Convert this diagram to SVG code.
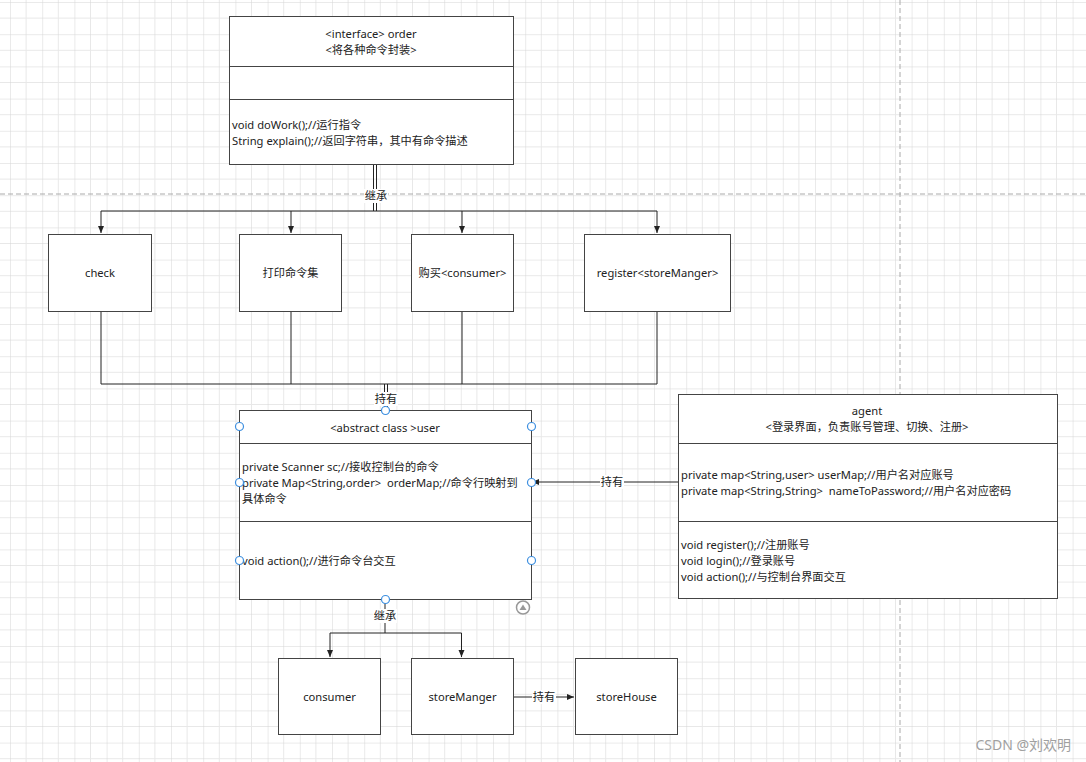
<svg xmlns="http://www.w3.org/2000/svg" width="1086" height="762" viewBox="0 0 1086 762">
<style>
text{font-family:"Noto Sans","Noto Sans CJK SC",sans-serif;font-size:11.2px;fill:#222}
.c{text-anchor:middle}
.box{fill:#fff;stroke:#444;stroke-width:1}
.div{stroke:#444;stroke-width:1}
.ln{fill:none;stroke:#222;stroke-width:1}
.h{fill:#fff;stroke:#3d8fe0;stroke-width:1.2}
.lbl{fill:#fff}
</style>
<defs>
<pattern id="grid" patternUnits="userSpaceOnUse" x="10" y="2" width="32.2" height="32.2">
<path d="M16.1 0V32.2M0 16.1H32.2" stroke="#e8e8e8" stroke-width="1" fill="none"/>
<path d="M0 0V32.2M0 0H32.2" stroke="#d6d6d6" stroke-width="1" fill="none"/>
</pattern>
<marker id="arr" markerWidth="8" markerHeight="8" refX="7" refY="4" orient="auto" markerUnits="userSpaceOnUse">
<path d="M0 1L7 4L0 7Z" fill="#222"/>
</marker>
</defs>
<rect width="1086" height="762" fill="#fff"/>
<rect width="1086" height="762" fill="url(#grid)"/>
<path d="M900 0V762M0 194H1086" stroke="#aaa" stroke-dasharray="5 3" fill="none"/>

<g id="connectors">
<path class="ln" d="M373.5 164V211M376.5 164V211"/>
<path class="ln" d="M101 211H657"/>
<path class="ln" d="M101 211V233" marker-end="url(#arr)"/>
<path class="ln" d="M291 211V233" marker-end="url(#arr)"/>
<path class="ln" d="M462 211V233" marker-end="url(#arr)"/>
<path class="ln" d="M657 211V233" marker-end="url(#arr)"/>
<rect class="lbl" x="364" y="189" width="24" height="14"/>
<text class="c" x="376" y="200">继承</text>

<path class="ln" d="M101 311V384H657V311M291 311V384M462 311V384"/>
<path class="ln" d="M384.5 384V410M387.5 384V410"/>
<rect class="lbl" x="374" y="392" width="24" height="14"/>
<text class="c" x="386" y="403">持有</text>

<path class="ln" d="M678 482H532" marker-end="url(#arr)"/>
<rect class="lbl" x="600" y="475" width="24" height="14"/>
<text class="c" x="612" y="486">持有</text>

<path class="ln" d="M385 599V633H330M385 633H461.5"/>
<path class="ln" d="M330 633V657" marker-end="url(#arr)"/>
<path class="ln" d="M461.5 633V657" marker-end="url(#arr)"/>
<rect class="lbl" x="373" y="609" width="24" height="14"/>
<text class="c" x="385" y="620">继承</text>

<path class="ln" d="M513 697H574" marker-end="url(#arr)"/>
<rect class="lbl" x="532" y="690" width="24" height="14"/>
<text class="c" x="544" y="701">持有</text>
</g>

<g id="order">
<rect class="box" x="229.5" y="16.5" width="284" height="148"/>
<path class="div" d="M229.5 66.5H513.5M229.5 99.5H513.5"/>
<text class="c" x="371" y="38">&lt;interface&gt; order</text>
<text class="c" x="371" y="54">&lt;将各种命令封装&gt;</text>
<text x="232" y="129">void doWork();//运行指令</text>
<text x="232" y="145">String explain();//返回字符串，其中有命令描述</text>
</g>

<g id="check">
<rect class="box" x="48.5" y="234.5" width="103" height="77"/>
<text class="c" x="100" y="277">check</text>
</g>
<g id="print">
<rect class="box" x="239.5" y="234.5" width="102" height="77"/>
<text class="c" x="290.5" y="277">打印命令集</text>
</g>
<g id="buy">
<rect class="box" x="411.5" y="234.5" width="102" height="77"/>
<text class="c" x="462.5" y="277">购买&lt;consumer&gt;</text>
</g>
<g id="register">
<rect class="box" x="584.5" y="234.5" width="146" height="77"/>
<text class="c" x="657.5" y="277">register&lt;storeManger&gt;</text>
</g>

<g id="user">
<rect class="box" x="239.5" y="410.5" width="292" height="189"/>
<path class="div" d="M239.5 443.5H531.5M239.5 521.5H531.5"/>
<text class="c" x="385" y="432">&lt;abstract class &gt;user</text>
<text x="242" y="471">private Scanner sc;//接收控制台的命令</text>
<text x="242" y="487" xml:space="preserve">private Map&lt;String,order&gt;  orderMap;//命令行映射到</text>
<text x="242" y="503">具体命令</text>
<text x="242" y="565">void action();//进行命令台交互</text>
<circle class="h" cx="385.5" cy="410.5" r="4"/>
<circle class="h" cx="239.5" cy="426.5" r="4"/>
<circle class="h" cx="531.5" cy="426.5" r="4"/>
<circle class="h" cx="239.5" cy="482.5" r="4"/>
<circle class="h" cx="531.5" cy="482.5" r="4"/>
<circle class="h" cx="239.5" cy="560.5" r="4"/>
<circle class="h" cx="531.5" cy="560.5" r="4"/>
<circle class="h" cx="385.5" cy="599.5" r="4"/>
<circle cx="523" cy="607.5" r="6.5" fill="#fff" stroke="#999" stroke-width="1.5"/>
<path d="M519.5 610L523 604.5L526.5 610Z" fill="#999"/>
</g>

<g id="agent">
<rect class="box" x="678.5" y="394.5" width="379" height="204"/>
<path class="div" d="M678.5 443.5H1057.5M678.5 521.5H1057.5"/>
<text class="c" x="867" y="415">agent</text>
<text class="c" x="867" y="431">&lt;登录界面，负责账号管理、切换、注册&gt;</text>
<text x="681" y="479">private map&lt;String,user&gt; userMap;//用户名对应账号</text>
<text x="681" y="495" xml:space="preserve">private map&lt;String,String&gt;  nameToPassword;//用户名对应密码</text>
<text x="681" y="549">void register();//注册账号</text>
<text x="681" y="565">void login();//登录账号</text>
<text x="681" y="581">void action();//与控制台界面交互</text>
</g>

<g id="consumer">
<rect class="box" x="278.5" y="658.5" width="102" height="76"/>
<text class="c" x="329.5" y="701">consumer</text>
</g>
<g id="storeManger">
<rect class="box" x="411.5" y="658.5" width="102" height="76"/>
<text class="c" x="462.5" y="701">storeManger</text>
</g>
<g id="storeHouse">
<rect class="box" x="575.5" y="658.5" width="102" height="76"/>
<text class="c" x="626.5" y="701">storeHouse</text>
</g>

<text x="1071" y="750" text-anchor="end" style="font-size:14px;fill:#a0a0a0">CSDN @刘欢明</text>
</svg>
